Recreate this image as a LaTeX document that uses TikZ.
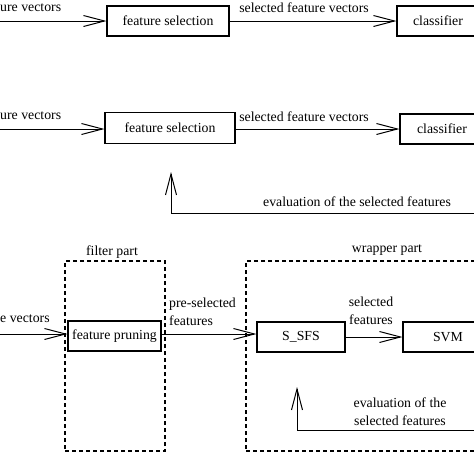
\documentclass[tikz,border=0pt]{standalone}
\usepackage{fontspec}
\setmainfont{Liberation Serif}
\usetikzlibrary{arrows.meta}
\tikzset{
  blk/.style={draw, line width=1.1pt, inner sep=0pt, minimum height=30},
  dashbox/.style={draw, line width=1.2pt, dash pattern=on 4pt off 3pt, inner sep=0pt},
  arr/.style={line width=1pt, -{Straight Barb[length=21pt,width=11pt,line width=1pt]}},
  fb/.style={line width=1pt, -{Straight Barb[length=21pt,width=11pt,line width=1pt]}}
}
\begin{document}
\begin{tikzpicture}[x=1pt,y=-1pt, font=\fontsize{13.8}{18}\selectfont]
\clip (0,0) rectangle (474,474);
% first row
\node[blk, minimum width=122] (fs1) at (168,21) {feature selection};
\node[blk, minimum width=82] (cl1) at (438,21) {classifier};
\coordinate (in1) at (-2,21);
\draw[arr] (in1) -- (fs1);
\draw[arr] (fs1) -- (cl1);
\node[anchor=west, inner sep=0pt] (t1) at (0,8) {ure vectors};
\node (s1) at (304,8) {selected feature vectors};
% second row
\node[blk, minimum width=130, minimum height=31] (fs2) at (170,128) {feature selection};
\node[blk, minimum width=84] (cl2) at (442,129) {classifier};
\coordinate (in2) at (-2,129);
\draw[arr] (in2) -- (fs2.west|-in2);
\draw[arr] (fs2.east|-cl2) -- (cl2);
\node[anchor=west, inner sep=0pt] (t2) at (0,116) {ure vectors};
\node (s2) at (304,117) {selected feature vectors};
\coordinate (fb2a) at (480,213);
\coordinate (fb2b) at (171,172);
\draw[fb] (fb2a) -| (fb2b);
\node (e2) at (357,202) {evaluation of the selected features};
% third row
\node[dashbox, minimum width=100, minimum height=190] (filter) at (115,356) {};
\node[dashbox, minimum width=254, minimum height=190] (wrapper) at (373,356) {};
\node (fl) at (112,252) {filter part};
\node (wl) at (387,250) {wrapper part};
\node[blk, minimum width=93] (fp) at (114.5,336) {feature pruning};
\node[blk, minimum width=88] (sfs) at (301,337) {S\_SFS};
\node[blk, minimum width=90] (svm) at (448,337) {SVM};
\coordinate (in3) at (-2,334);
\draw[arr] (in3) -- (fp.west|-in3);
\draw[arr] (fp.east|-in3) -- (sfs.west|-in3);
\draw[arr] (sfs) -- (svm);
\node[anchor=west, inner sep=0pt] (t3) at (0,319) {e vectors};
\node[anchor=west, align=left, inner sep=0pt] (ps) at (169,312) {pre-selected\\features};
\node[align=center] (sf) at (371,311) {selected\\features};
\coordinate (fb3a) at (480,430);
\coordinate (fb3b) at (297,387);
\draw[fb] (fb3a) -| (fb3b);
\node[align=center] (e3) at (400,412) {evaluation of the\\selected features};
\end{tikzpicture}
\end{document}
